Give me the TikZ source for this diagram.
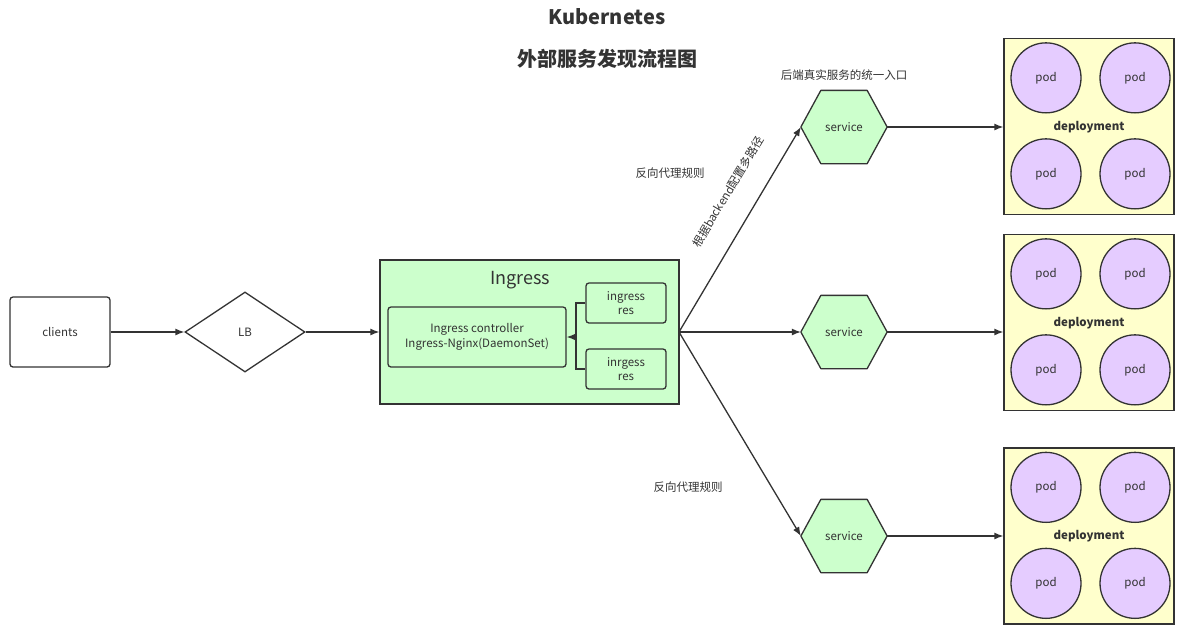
\documentclass[tikz,border=0pt]{standalone}
\usepackage{fontspec}
\setmainfont{Noto Sans CJK SC}
\usetikzlibrary{calc,shapes.geometric,arrows.meta}
\definecolor{lightgreen}{HTML}{CCFFCC}
\definecolor{podpurple}{HTML}{E5CCFF}
\definecolor{deployyellow}{HTML}{FFFFCC}
\definecolor{linegray}{HTML}{333333}

\begin{document}
\begin{tikzpicture}[x=1pt, y=-1pt, line width=1.3pt, draw=linegray,
                    every node/.style={text=linegray, font=\fontsize{11.5}{14}\selectfont},
                    box/.style={draw, rounded corners=3pt, align=center},
                    arr/.style={-{Latex[length=9pt,width=7pt]}},
                    pod/.style={circle, draw, fill=podpurple, minimum size=70pt, inner sep=0pt},
                    deploy/.style={draw, fill=deployyellow, minimum width=170pt, minimum height=176pt}]
    \useasboundingbox (0,0) rectangle (1185,630);
    \node[font=\fontsize{20}{24}\selectfont\bfseries] (title) at (607,17) {Kubernetes};
    \node[font=\fontsize{20}{24}\selectfont\bfseries] (subtitle) at (607,59) {外部服务发现流程图};

    \node[box, minimum width=100pt, minimum height=70pt] (clients) at (60,332) {clients};
    \node[diamond, draw, aspect=1.5, minimum width=120pt, minimum height=80pt, inner sep=0pt] (lb) at (245,332) {LB};

    \node[draw, fill=lightgreen, minimum width=299pt, minimum height=144pt] (ingress) at (529.5,332) {};
    \node[font=\fontsize{18}{22}\selectfont] (ingtitle) at (520,280) {Ingress};
    \node[box, minimum width=178pt, minimum height=60pt, font=\fontsize{11.5}{15}\selectfont] (ctrl) at (477,337)
        {Ingress controller\\Ingress-Nginx(DaemonSet)};
    \node[box, minimum width=80pt, minimum height=40pt, inner sep=1pt] (res1) at (626,303) {ingress\\res};
    \node[box, minimum width=80pt, minimum height=40pt, inner sep=1pt] (res2) at (626,369) {inrgess\\res};
    \coordinate (join) at (576,337);
    \draw (res1.west) -| (join) |- (res2.west);
    \draw[arr] (join) -- (ctrl.east);

    \draw[arr] (clients) -- (lb);
    \draw[arr] (lb) -- (ingress.west |- lb);
    \coordinate (out) at (679,332);

    \foreach \i/\y/\dy in {1/127/126.5, 2/332/322.5, 3/536/536}{%
      \node[minimum width=85pt, minimum height=72pt, inner sep=0pt] (svc\i) at (844,\y) {};
      \draw[fill=lightgreen, line join=round] (svc\i.west) -- ($(svc\i.north west)+(20,0)$)
          -- ($(svc\i.north east)+(-20,0)$) -- (svc\i.east) -- ($(svc\i.south east)+(-20,0)$)
          -- ($(svc\i.south west)+(20,0)$) -- cycle;
      \node (svclabel\i) at (svc\i) {service};
      \node[deploy] (dep\i) at (1089,\dy) {};
      \node[font=\fontsize{11.5}{14}\selectfont\bfseries] (deplabel\i) at ($(dep\i.north)+(0,89)$) {deployment};
      \node[pod] (pod\i a) at ($(dep\i.north)+(-43,40)$) {pod};
      \node[pod] (pod\i b) at ($(dep\i.north)+(46,40)$) {pod};
      \node[pod] (pod\i c) at ($(dep\i.north)+(-43,136)$) {pod};
      \node[pod] (pod\i d) at ($(dep\i.north)+(46,136)$) {pod};
      \draw[arr] (svc\i.east) -- (dep\i.west |- svc\i.east);
      \draw[arr] (out) -- (svc\i.west);}

    \node (rule1) at (670,173) {反向代理规则};
    \node (rule2) at (688,487) {反向代理规则};
    \node (entry) at (844,75) {后端真实服务的统一入口};
    \node[rotate=59] (backend) at (728,192) {根据backend配置多路径};
\end{tikzpicture}
\end{document}
